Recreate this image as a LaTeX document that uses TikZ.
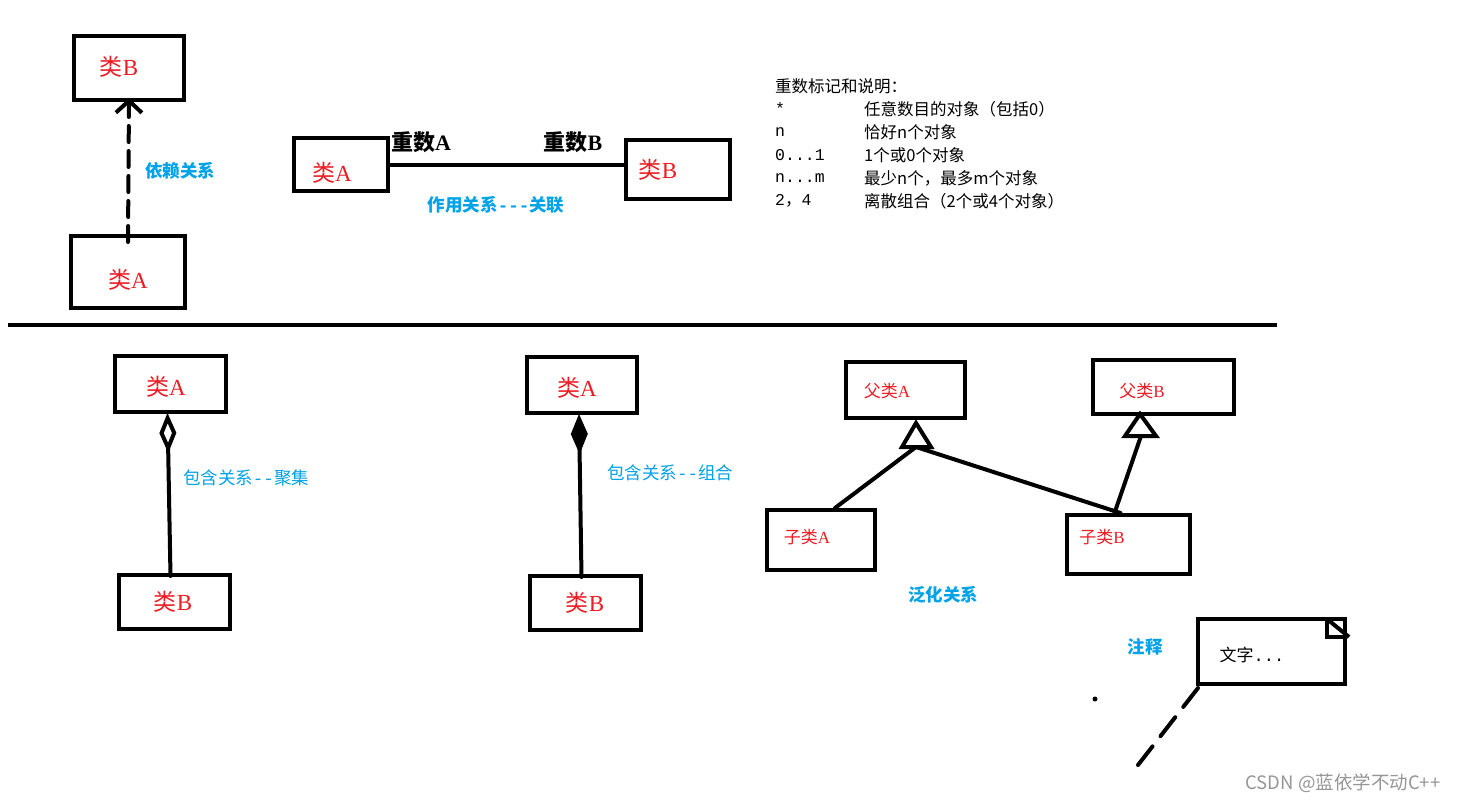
\documentclass[tikz,border=0pt]{standalone}
\usepackage{fontspec}
\setmainfont{Liberation Serif}
\newfontfamily\cjk{Noto Sans CJK SC}
\newfontfamily\mono{Liberation Mono}
\usetikzlibrary{arrows.meta}
\definecolor{pred}{RGB}{237,28,36}
\definecolor{pblue}{RGB}{0,162,232}
\definecolor{wgray}{RGB}{150,150,150}
\begin{document}
\begin{tikzpicture}[x=1pt,y=-1pt,
  box/.style 2 args={draw, line width=4pt, inner sep=0pt, minimum width=#1, minimum height=#2},
  cls/.style={text=pred, inner sep=0pt, font=\fontsize{23}{23}\selectfont},
  smallcls/.style={text=pred, inner sep=0pt, font=\fontsize{17}{17}\selectfont},
  lbl/.style={text=pblue, inner sep=0pt, font=\cjk\bfseries\fontsize{17.5}{17.5}\selectfont},
  lbln/.style={text=pblue, inner sep=0pt, font=\cjk\fontsize{17.5}{17.5}\selectfont},
  mult/.style={inner sep=0pt, font=\bfseries\fontsize{22}{22}\selectfont},
  tbl/.style={inner sep=0pt, anchor=west, font=\cjk\fontsize{16.5}{16.5}\selectfont},
  conn/.style={line width=4pt, line cap=round},
  depline/.style={line width=4pt, line cap=round, dash pattern=on 16pt off 9pt},
  noteline/.style={line width=4pt, line cap=round, dash pattern=on 24pt off 13pt}
]
\useasboundingbox (0,0) rectangle (1462,802);
\fill[white] (0,0) rectangle (1462,802);

% ---------- dependency ----------
\node[box={110pt}{64pt}] (depB) at (129,68) {};
\node[box={114pt}{72pt}] (depA) at (128,272) {};
\node[cls] (tdepB) at (119,67) {{\cjk 类}B};
\node[cls] (tdepA) at (128,280) {{\cjk 类}A};
\draw[depline, -{Straight Barb[length=12pt,width=26pt,line width=4pt]}] ([yshift=-8pt]depA.north) -- ([yshift=4pt]depB.south);
\node[lbl] (ldep) at (180,171) {依赖关系};

% ---------- association ----------
\node[box={94pt}{53pt}] (asA) at (341,164.5) {};
\node[box={104pt}{59pt}] (asB) at (678,169.5) {};
\node[cls] (tasA) at (332,173) {{\cjk 类}A};
\node[cls] (tasB) at (658,170) {{\cjk 类}B};
\draw[line width=4pt] (asA.east |- 0,165) -- (asB.west |- 0,165);
\node[mult] (mA) at (421,142) {{\cjk\bfseries 重数}A};
\node[mult] (mB) at (573,142) {{\cjk\bfseries 重数}B};
\node[lbl] (las) at (496,205) {作用关系{\mono\bfseries ---}关联};

% ---------- multiplicity table ----------
\node[tbl] (r0) at (775,86) {重数标记和说明：};
\node[tbl] (r1a) at (775,109) {{\mono *}};
\node[tbl] (r1b) at (864,109) {任意数目的对象（包括0）};
\node[tbl] (r2a) at (775,132) {{\mono n}};
\node[tbl] (r2b) at (864,132) {恰好n个对象};
\node[tbl] (r3a) at (775,155) {{\mono 0...1}};
\node[tbl] (r3b) at (864,155) {1个或0个对象};
\node[tbl] (r4a) at (775,178) {{\mono n...m}};
\node[tbl] (r4b) at (864,178) {最少n个，最多m个对象};
\node[tbl] (r5a) at (775,201) {{\mono 2}，{\mono 4}};
\node[tbl] (r5b) at (864,201) {离散组合（2个或4个对象）};

% ---------- separator ----------
\coordinate (sepL) at (8,325);
\coordinate (sepR) at (1277,325);
\draw[line width=3.5pt] (sepL) -- (sepR);

% ---------- aggregation ----------
\node[box={111pt}{56pt}] (agA) at (170.5,384) {};
\node[box={111pt}{54pt}] (agB) at (174.5,602) {};
\node[cls] (tagA) at (166,387) {{\cjk 类}A};
\node[cls] (tagB) at (173,602) {{\cjk 类}B};
\draw[conn, {Diamond[open,length=40pt,width=17pt,line width=4pt]}-] ([xshift=-3pt,yshift=1pt]agA.south) -- ([xshift=-4pt,yshift=-3pt]agB.north);
\node[lbln] (lag) at (246,478) {包含关系{\mono --}聚集};

% ---------- composition ----------
\node[box={110pt}{56pt}] (coA) at (582,385) {};
\node[box={111pt}{54pt}] (coB) at (585.5,603) {};
\node[cls] (tcoA) at (577,388) {{\cjk 类}A};
\node[cls] (tcoB) at (585,603) {{\cjk 类}B};
\draw[conn, {Diamond[length=40pt,width=17pt,line width=4pt]}-] ([xshift=-3pt,yshift=1pt]coA.south) -- ([xshift=-4pt,yshift=-3pt]coB.north);
\node[lbln] (lco) at (670,473) {包含关系{\mono --}组合};

% ---------- generalization ----------
\node[box={119pt}{56pt}] (pA) at (905.5,390) {};
\node[box={141pt}{54pt}] (pB) at (1163.5,387) {};
\node[box={108pt}{60pt}] (sA) at (821,540) {};
\node[box={123pt}{59pt}] (sB) at (1128.5,544.5) {};
\node[smallcls] (tpA) at (887,391) {{\cjk 父类}A};
\node[smallcls] (tpB) at (1142,391) {{\cjk 父类}B};
\node[smallcls] (tsA) at (807,537) {{\cjk 子类}A};
\node[smallcls] (tsB) at (1102,537) {{\cjk 子类}B};
\coordinate (tA) at (916,447);
\coordinate (tB) at (1141,436);
\draw[conn] (tA) -- ([xshift=14pt]sA.north);
\draw[conn] (tA) -- ([xshift=-8pt]sB.north);
\draw[conn] (tB) -- ([xshift=-14pt]sB.north);
\draw[line width=4pt, line join=miter, fill=white] (916,423) -- (902,447) -- (931,447) -- cycle;
\draw[line width=4pt, line join=miter, fill=white] (1140,414) -- (1125,436) -- (1156,436) -- cycle;
\node[lbl] (lgen) at (943,595) {泛化关系};

% ---------- note ----------
\node[box={147pt}{65pt}] (note) at (1271.5,651.5) {};
\draw[line width=4pt] (1327,619) rectangle (1345,637);
\draw[line width=4pt] (1327,619) -- (1349,637);
\node[inner sep=0pt, font=\cjk\fontsize{17}{17}\selectfont] (tnote) at (1252,655) {文字{\mono ...}};
\node[lbl] (lnote) at (1145,647) {注释};
\coordinate (nend) at (1138,765);
\draw[noteline] ([xshift=2pt,yshift=-2pt]note.south west) -- (nend);
\fill (1095,699) circle (2.5);

% ---------- watermark ----------
\node[inner sep=0pt, text=wgray, font=\cjk\fontsize{18.5}{18.5}\selectfont] (wm) at (1343,783) {CSDN @蓝依学不动C++};
\end{tikzpicture}
\end{document}
